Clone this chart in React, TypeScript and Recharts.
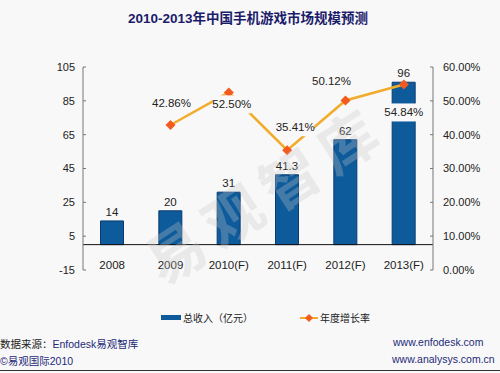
import { ComposedChart, Bar, Line, XAxis, YAxis, LabelList, ReferenceLine } from 'recharts';

const years = ['2008', '2009', '2010(F)', '2011(F)', '2012(F)', '2013(F)'];
const revenue = [14, 20, 31, 41.3, 62, 96];
const growth = [null, 42.86, 52.5, 35.41, 50.12, 54.84];

const leftTicks = [-15, 5, 25, 45, 65, 85, 105];
const rightTicks = [0, 10, 20, 30, 40, 50, 60];

const data = years.map((year, i) => ({ year, revenue: revenue[i], growth: growth[i] }));

// where each growth label sits relative to its point
const labelOffsets = [
  { dx: 0, dy: 0 },
  { dx: 1, dy: -22 },
  { dx: 3, dy: 12 },
  { dx: 8, dy: -23 },
  { dx: -14, dy: -19 },
  { dx: 0, dy: 28 },
];

const BG = '#f8f8f8';
const FONT = 'Arial, "Liberation Sans", "Noto Sans CJK SC", sans-serif';
const BAR_FILL = '#0d5b9b';
const LINE_COLOR = '#f2ac2c';
const DOT_COLOR = '#f25a1f';

const Diamond = (props: any) => {
  const { cx, cy, index } = props;
  if (cx == null || cy == null || growth[index] == null) return <g key={index} />;
  const r = 5;
  return (
    <polygon
      key={index}
      points={`${cx},${cy - r} ${cx + r},${cy} ${cx},${cy + r} ${cx - r},${cy}`}
      fill={DOT_COLOR}
    />
  );
};

const GrowthLabel = (props: any) => {
  const { x, y, value, index } = props;
  if (value == null) return null;
  const off = labelOffsets[index];
  const text = `${Number(value).toFixed(2)}%`;
  const cx = x + off.dx;
  const cy = y + off.dy;
  return (
    <g>
      <rect x={cx - 19} y={cy - 9} width={38} height={18} fill={BG} />
      <text x={cx} y={cy} textAnchor="middle" dominantBaseline="central" fontSize={11.5} fill="#222" fontFamily={FONT}>
        {text}
      </text>
    </g>
  );
};

const YearTick = (props: any) => {
  const { x, y, payload } = props;
  return (
    <text x={x} y={y} dy={-9} textAnchor="middle" fontSize={11.5} fill="#222" fontFamily={FONT}>
      {payload.value}
    </text>
  );
};

export default function App() {
  return (
    <div style={{ position: 'absolute', left: 0, top: 0, width: 500, height: 373, background: BG, fontFamily: FONT, overflow: 'hidden' }}>
      <div style={{ position: 'absolute', top: 7, left: 0, width: 496, textAlign: 'center', fontSize: 13.5, fontWeight: 'bold', color: '#1b1b6b' }}>
        2010-2013年中国手机游戏市场规模预测
      </div>

      <ComposedChart
        width={500}
        height={373}
        data={data}
        margin={{ top: 67, right: 0, bottom: 83, left: 0 }}
        barCategoryGap="30%"
        style={{ position: 'absolute', left: 0, top: 0 }}
      >
        <XAxis dataKey="year" height={20} axisLine={false} tickLine={false} tick={<YearTick />} interval={0} />
        <YAxis
          yAxisId="left"
          width={83}
          domain={[-15, 105]}
          ticks={leftTicks}
          interval={0}
          stroke="#777"
          tickSize={-3}
          tickMargin={11}
          tick={{ fill: '#222', fontSize: 11, fontFamily: FONT }}
        />
        <YAxis
          yAxisId="right"
          orientation="right"
          width={67}
          domain={[0, 60]}
          ticks={rightTicks}
          interval={0}
          stroke="#777"
          tickSize={-3}
          tickMargin={13}
          tickFormatter={(v: number) => `${v.toFixed(2)}%`}
          tick={{ fill: '#222', fontSize: 11, fontFamily: FONT, textAnchor: 'start' }}
        />
        <ReferenceLine yAxisId="left" y={0} stroke="#111" strokeWidth={1} />
        <Bar yAxisId="left" dataKey="revenue" fill={BAR_FILL} stroke="#0a3c72" strokeWidth={1} isAnimationActive={false}>
          <LabelList dataKey="revenue" position="top" offset={5} fill="#222" fontSize={11.5} fontFamily={FONT} />
        </Bar>
        <Line
          yAxisId="right"
          dataKey="growth"
          stroke={LINE_COLOR}
          strokeWidth={2.5}
          dot={<Diamond />}
          activeDot={false}
          connectNulls={false}
          isAnimationActive={false}
        >
          <LabelList dataKey="growth" content={<GrowthLabel />} />
        </Line>
      </ComposedChart>

      {/* watermark sits over the bars */}
      <div
        style={{
          position: 'absolute',
          left: 128,
          top: 150,
          fontSize: 58,
          fontWeight: 'bold',
          color: 'rgba(200,200,200,0.3)',
          transform: 'rotate(-33deg)',
          letterSpacing: 10,
          whiteSpace: 'nowrap',
          pointerEvents: 'none',
        }}
      >
        易观智库
      </div>

      <div style={{ position: 'absolute', top: 310, left: 161, display: 'flex', alignItems: 'center', fontSize: 10, color: '#222' }}>
        <span style={{ display: 'inline-block', width: 20, height: 5, background: BAR_FILL, marginRight: 2 }} />
        总收入（亿元）
      </div>
      <div style={{ position: 'absolute', top: 310, left: 300, display: 'flex', alignItems: 'center', fontSize: 10, color: '#222' }}>
        <svg width={18} height={10} style={{ marginRight: 2 }}>
          <line x1={0} y1={5} x2={18} y2={5} stroke={LINE_COLOR} strokeWidth={2} />
          <polygon points="9,1 13,5 9,9 5,5" fill={DOT_COLOR} />
        </svg>
        年度增长率
      </div>

      <div style={{ position: 'absolute', top: 336, left: 0, fontSize: 10.5, color: '#222' }}>
        数据来源：<span style={{ color: '#1e2a78' }}>Enfodesk易观智库</span>
      </div>
      <div style={{ position: 'absolute', top: 353, left: 0, fontSize: 10.5, color: '#1e2a78' }}>©易观国际2010</div>
      <div style={{ position: 'absolute', top: 336, left: 393, fontSize: 10.5, color: '#1e2a78' }}>www.enfodesk.com</div>
      <div style={{ position: 'absolute', top: 353, left: 392, fontSize: 10.5, color: '#1e2a78' }}>www.analysys.com.cn</div>
      <div style={{ position: 'absolute', top: 370, left: 0, width: 500, height: 1, background: '#333' }} />
    </div>
  );
}
